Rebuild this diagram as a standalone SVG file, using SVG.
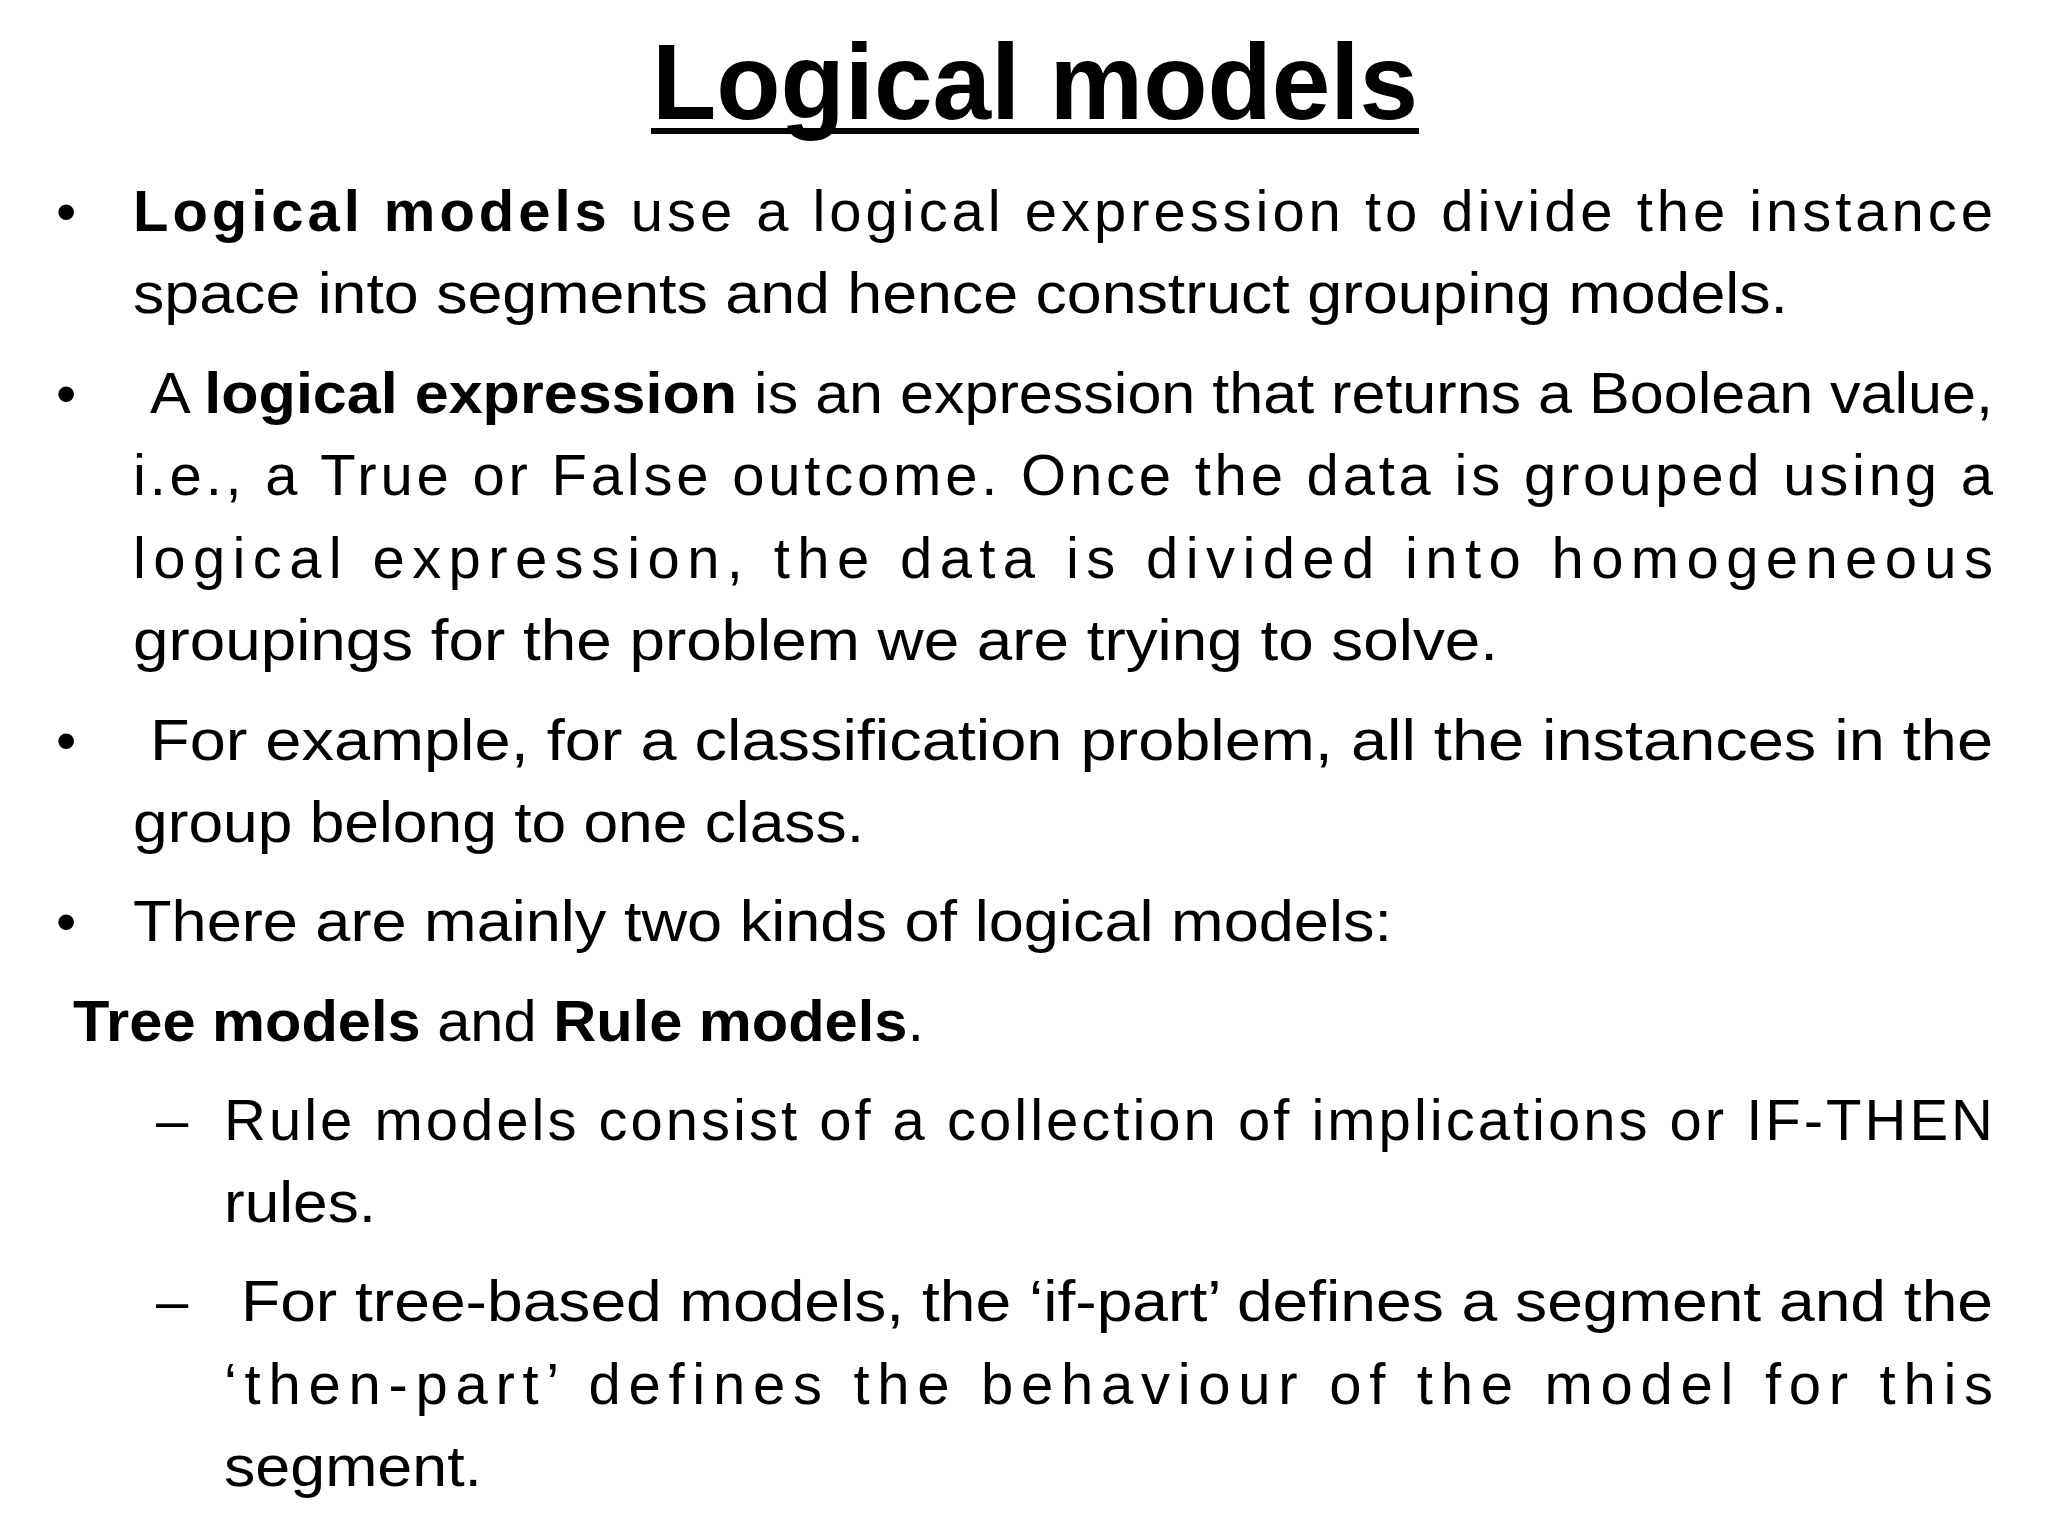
<svg xmlns="http://www.w3.org/2000/svg" width="2048" height="1536" viewBox="0 0 2048 1536">
<style>
text{font-family:"Liberation Sans",Arial,sans-serif;font-size:58px;fill:#000}
.b{font-weight:bold}
.t{font-size:108px;font-weight:bold}
</style>
<rect width="2048" height="1536" fill="#fff"/>
<g id="title">
<text class="t" x="1035" y="119" text-anchor="middle" textLength="766" lengthAdjust="spacingAndGlyphs">Logical models</text>
<rect x="651" y="128" width="768" height="6"/>
</g>
<g id="body">
<text x="56" y="231">•</text>
<text x="133" y="231" textLength="1860" lengthAdjust="spacing"><tspan class="b">Logical models</tspan> use a logical expression to divide the instance</text>
<text x="133" y="313" textLength="1655" lengthAdjust="spacingAndGlyphs">space into segments and hence construct grouping models.</text>
<text x="56" y="413">•</text>
<text x="150" y="413" textLength="1843" lengthAdjust="spacingAndGlyphs">A <tspan class="b">logical expression</tspan> is an expression that returns a Boolean value,</text>
<text x="133" y="495" textLength="1860" lengthAdjust="spacing">i.e., a True or False outcome. Once the data is grouped using a</text>
<text x="133" y="578" textLength="1860" lengthAdjust="spacing">logical expression, the data is divided into homogeneous</text>
<text x="133" y="660" textLength="1365" lengthAdjust="spacingAndGlyphs">groupings for the problem we are trying to solve.</text>
<text x="56" y="760">•</text>
<text x="150" y="760" textLength="1843" lengthAdjust="spacingAndGlyphs">For example, for a classification problem, all the instances in the</text>
<text x="133" y="842" textLength="731" lengthAdjust="spacingAndGlyphs">group belong to one class.</text>
<text x="56" y="941">•</text>
<text x="133" y="941" textLength="1259" lengthAdjust="spacingAndGlyphs">There are mainly two kinds of logical models:</text>
<text x="73" y="1041" textLength="851" lengthAdjust="spacingAndGlyphs"><tspan class="b">Tree models</tspan> and <tspan class="b">Rule models</tspan>.</text>
<text x="156" y="1140">–</text>
<text x="224" y="1140" textLength="1769" lengthAdjust="spacing">Rule models consist of a collection of implications or IF-THEN</text>
<text x="224" y="1222" textLength="152" lengthAdjust="spacingAndGlyphs">rules.</text>
<text x="156" y="1321">–</text>
<text x="241" y="1321" textLength="1752" lengthAdjust="spacingAndGlyphs">For tree-based models, the ‘if-part’ defines a segment and the</text>
<text x="224" y="1404" textLength="1769" lengthAdjust="spacing">‘then-part’ defines the behaviour of the model for this</text>
<text x="224" y="1486" textLength="258" lengthAdjust="spacingAndGlyphs">segment.</text>
</g>
</svg>
